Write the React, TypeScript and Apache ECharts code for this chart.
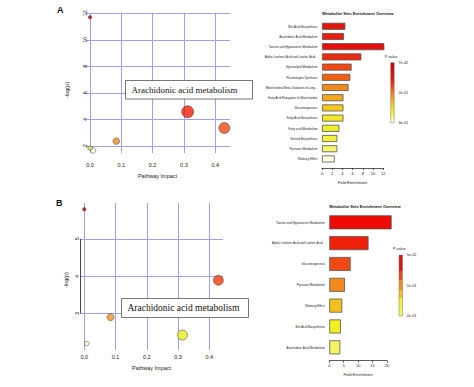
import React, { useEffect, useRef } from "react";
import * as echarts from "echarts";

// ---- Panel A: pathway impact scatter ----
const impactA = [0.0, 0.01, 0.0, 0.084, 0.312, 0.429];
const logPA = [11.7, 1.65, 1.83, 2.35, 4.57, 3.34];
const sizeA = [3.5, 5.5, 4.5, 6.5, 12, 11];
const colorA = ["#B40A0A", "#FFFFE6", "#D2E650", "#F08C1E", "#F01E05", "#F04A14"];

// ---- Panel B: pathway impact scatter ----
const impactB = [0.0, 0.429, 0.084, 0.314, 0.008];
const logPB = [5.79, 3.89, 2.9, 2.42, 2.19];
const sizeB = [3.5, 10, 7, 10, 4.5];
const colorB = ["#B40A0A", "#F03C0A", "#F0961E", "#E6F01E", "#FFFFC8"];

// ---- Panel A: enrichment overview ----
const setsA = [
  "Bile Acid Biosynthesis",
  "Arachidonic Acid Metabolism",
  "Taurine and Hypotaurine Metabolism",
  "Alpha Linolenic Acid and Linoleic Acid...",
  "Glycerolipid Metabolism",
  "Plasmalogen Synthesis",
  "Mitochondrial Beta-Oxidation of Long...",
  "Fatty Acid Elongation In Mitochondria",
  "Gluconeogenesis",
  "Fatty Acid Biosynthesis",
  "Fatty acid Metabolism",
  "Steroid Biosynthesis",
  "Pyruvate Metabolism",
  "Warburg Effect",
];
const foldA = [4.57, 4.3, 12.2, 7.7, 5.8, 5.55, 5.2, 4.2, 4.2, 4.2, 3.4, 3.0, 3.0, 2.5];
const barColorA = [
  "#E5140C", "#E81C0E", "#E60F0A", "#EB2A0E", "#F04A10", "#F2600F", "#F28A1A",
  "#F2A61A", "#F5C81E", "#F2E628", "#F0F02A", "#F2F23C", "#F5F570", "#FFFFE0",
];
const foldTicksA = { min: 0, max: 12, interval: 2 };
const pLabelsA = ["7e-02", "2e-01", "3e-01"];

// ---- Panel B: enrichment overview ----
const setsB = [
  "Taurine and Hypotaurine Metabolism",
  "Alpha Linolenic Acid and Linoleic Acid...",
  "Gluconeogenesis",
  "Pyruvate Metabolism",
  "Warburg Effect",
  "Bile Acid Biosynthesis",
  "Arachidonic Acid Metabolism",
];
const foldB = [21.6, 13.6, 7.4, 5.4, 4.5, 4.0, 3.8];
const barColorB = ["#F00A05", "#F0200A", "#F04A14", "#F5891E", "#F5C01E", "#F0F01E", "#F5F564"];
const foldTicksB = { min: 0, max: 20, interval: 5 };
const pLabelsB = ["5e-02", "1e-01", "2e-01"];

const annotation = "Arachidonic acid metabolism";
const overviewTitle = "Metabolite Sets Enrichment Overview";

const SANS = "Liberation Sans, Arial, sans-serif";
const SERIF = "Liberation Serif, Times New Roman, serif";
const GRIDLINE = "#A0A0EE";
const TXT = "#222";

const xMinA = -0.016;
const xMinB = -0.0138;

function scatterX(gridIndex: number, min: number, max: number, margin: number, nameGap: number) {
  return {
    type: "value",
    gridIndex,
    min,
    max,
    splitNumber: 5,
    minInterval: 0.1,
    maxInterval: 0.1,
    axisLine: { show: false },
    axisTick: { show: false },
    axisLabel: {
      fontSize: 5.5,
      color: TXT,
      fontFamily: SANS,
      margin,
      showMinLabel: false,
      showMaxLabel: false,
      formatter: (v: number) => v.toFixed(1),
    },
    splitLine: { show: true, showMinLine: false, showMaxLine: false, lineStyle: { color: GRIDLINE, width: 1 } },
    name: "Pathway Impact",
    nameLocation: "middle",
    nameGap,
    nameTextStyle: { fontSize: 5.5, color: TXT, fontFamily: SANS },
  };
}

function scatterY(gridIndex: number, min: number, max: number, step: number, shift: number, margin: number, nameGap: number) {
  return {
    type: "value",
    gridIndex,
    min,
    max,
    splitNumber: 5,
    minInterval: step,
    maxInterval: step,
    axisLine: { show: false },
    axisTick: { show: false },
    axisLabel: {
      fontSize: 5.5,
      color: TXT,
      fontFamily: SANS,
      rotate: 90,
      margin,
      showMinLabel: false,
      showMaxLabel: false,
    },
    splitLine: { show: true, showMinLine: false, showMaxLine: false, lineStyle: { color: GRIDLINE, width: 1 } },
    name: "-log(p)",
    nameLocation: "middle",
    nameGap,
    nameRotate: 90,
    nameTextStyle: { fontSize: 5.5, color: TXT, fontFamily: SANS, padding: [0, shift, 0, 0] },
  };
}

function barX(gridIndex: number, t: { min: number; max: number; interval: number }, offset: number, nameGap: number) {
  return {
    type: "value",
    gridIndex,
    min: t.min,
    max: t.max,
    interval: t.interval,
    offset,
    axisLine: { show: true, lineStyle: { color: "#333", width: 0.8 } },
    axisTick: { show: true, length: 2, lineStyle: { color: "#333", width: 0.8 } },
    axisLabel: { fontSize: 4, color: TXT, fontFamily: SANS, margin: 3 },
    splitLine: { show: false },
    name: "Fold Enrichment",
    nameLocation: "middle",
    nameGap,
    nameTextStyle: { fontSize: 4, color: TXT, fontFamily: SANS },
  };
}

function barY(gridIndex: number, cats: string[]) {
  return {
    type: "category",
    gridIndex,
    data: cats,
    inverse: true,
    axisLine: { show: false },
    axisTick: { show: false },
    axisLabel: { fontSize: 3, color: TXT, fontFamily: SANS, margin: 4.5 },
    splitLine: { show: false },
  };
}

function scatterSeries(idx: number, xs: number[], ys: number[], sizes: number[], colors: string[]) {
  return {
    type: "scatter",
    xAxisIndex: idx,
    yAxisIndex: idx,
    clip: false,
    data: xs.map((x, i) => ({
      value: [x, ys[i]],
      symbolSize: sizes[i],
      itemStyle: { color: colors[i], borderColor: "#333", borderWidth: 0.6 },
    })),
  };
}

function barSeries(idx: number, vals: number[], colors: string[], width: number) {
  return {
    type: "bar",
    xAxisIndex: idx,
    yAxisIndex: idx,
    clip: false,
    barWidth: width,
    data: vals.map((v, i) => ({
      value: v,
      itemStyle: { color: colors[i], borderColor: "#555", borderWidth: 0.8 },
    })),
  };
}

function colorBar(x: number, y: number, h: number, stops: any[], labels: string[], labelX: number) {
  const els: any[] = [
    {
      type: "rect",
      shape: { x, y, width: 3.5, height: h },
      style: {
        fill: new echarts.graphic.LinearGradient(0, 0, 0, 1, stops),
        stroke: "#777",
        lineWidth: 0.5,
      },
    },
    {
      type: "text",
      style: { x: x - 6, y: y - 6, text: "P value", fontSize: 3.8, fill: TXT, fontFamily: SANS, verticalAlign: "middle" },
    },
  ];
  labels.forEach((t, i) => {
    els.push({
      type: "text",
      style: {
        x: labelX,
        y: y + (h * i) / (labels.length - 1),
        text: t,
        fontSize: 3.8,
        fill: TXT,
        fontFamily: SANS,
        verticalAlign: "middle",
      },
    });
  });
  return els;
}

export default function App() {
  const ref = useRef<HTMLDivElement>(null);
  useEffect(() => {
    const chart = echarts.init(ref.current!, null, { renderer: "svg" });
    const option: any = {
      animation: false,
      backgroundColor: "#fff",
      title: [
        {
          text: overviewTitle,
          left: 353,
          top: 6.5,
          textAlign: "center",
          textStyle: { fontSize: 4, fontWeight: "bold", color: "#111", fontFamily: SANS },
        },
        {
          text: overviewTitle,
          left: 360,
          top: 199.5,
          textAlign: "center",
          textStyle: { fontSize: 4, fontWeight: "bold", color: "#111", fontFamily: SANS },
        },
      ],
      grid: [
        { left: 85, top: 12.6, width: 145, height: 140.5 },
        { left: 80, top: 203, width: 143, height: 147 },
        { left: 322, top: 21.2, width: 61.3, height: 142.8 },
        { left: 329.3, top: 211.9, width: 57.7, height: 145.8 },
      ],
      xAxis: [
        scatterX(0, xMinA, xMinA + 145 / 313, 9, 20),
        scatterX(1, xMinB, xMinB + 143 / 312.5, 4, 15),
        barX(2, foldTicksA, 4, 12),
        barX(3, foldTicksB, 3, 12),
      ],
      yAxis: [
        scatterY(0, 1.45, 12.05, 2, 14, -3, 15),
        scatterY(1, 2.02, 5.96, 1, 7, 0, 11),
        barY(2, setsA),
        barY(3, setsB),
      ],
      series: [
        scatterSeries(0, impactA, logPA, sizeA, colorA),
        {
          ...scatterSeries(1, impactB, logPB, sizeB, colorB),
          markLine: {
            silent: true,
            symbol: "none",
            label: { show: false },
            lineStyle: { color: "#444", width: 1, type: "solid" },
            data: [[{ coord: [xMinB, 3] }, { coord: [xMinB, 5] }]],
          },
        },
        barSeries(2, foldA, barColorA, 7),
        barSeries(3, foldB, barColorB, 14),
      ],
      graphic: [
        { type: "text", style: { x: 57, y: 10, text: "A", fontSize: 9, fontWeight: "bold", fill: "#111", fontFamily: SANS, verticalAlign: "middle" } },
        { type: "text", style: { x: 56, y: 203, text: "B", fontSize: 9, fontWeight: "bold", fill: "#111", fontFamily: SANS, verticalAlign: "middle" } },
        {
          type: "rect",
          shape: { x: 125.5, y: 80.5, width: 127, height: 18.5 },
          style: { fill: "#fff", stroke: "#555", lineWidth: 0.8 },
          z: 10,
        },
        {
          type: "text",
          style: { x: 131.5, y: 90, text: annotation, fontSize: 9, fill: "#111", fontFamily: SERIF, verticalAlign: "middle" },
          z: 11,
        },
        {
          type: "rect",
          shape: { x: 121.5, y: 298.5, width: 127, height: 19 },
          style: { fill: "#fff", stroke: "#555", lineWidth: 0.8 },
          z: 10,
        },
        {
          type: "text",
          style: { x: 127.5, y: 308, text: annotation, fontSize: 9.5, fill: "#111", fontFamily: SERIF, verticalAlign: "middle" },
          z: 11,
        },
        ...colorBar(
          390.7,
          62.7,
          60,
          [
            { offset: 0, color: "#C00000" },
            { offset: 0.3, color: "#E81810" },
            { offset: 0.5, color: "#F07A20" },
            { offset: 0.75, color: "#F0E020" },
            { offset: 0.88, color: "#F5F560" },
            { offset: 1, color: "#FFFFF0" },
          ],
          pLabelsA,
          398.5
        ),
        ...colorBar(
          399,
          255,
          61,
          [
            { offset: 0, color: "#E01010" },
            { offset: 0.27, color: "#E01010" },
            { offset: 0.27, color: "#E84A14" },
            { offset: 0.41, color: "#E84A14" },
            { offset: 0.41, color: "#F08C1E" },
            { offset: 0.57, color: "#F08C1E" },
            { offset: 0.57, color: "#F0C020" },
            { offset: 0.71, color: "#F0C020" },
            { offset: 0.71, color: "#F0F028" },
            { offset: 1, color: "#F5F570" },
          ],
          pLabelsB,
          406.7
        ),
      ],
    };
    chart.setOption(option);
    return () => chart.dispose();
  }, []);
  return (
    <div
      ref={ref}
      style={{ position: "fixed", left: 0, top: 0, width: 474, height: 387, background: "#fff" }}
    />
  );
}
